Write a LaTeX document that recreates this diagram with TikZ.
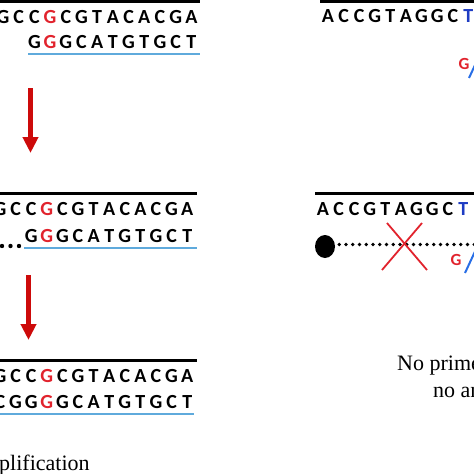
\documentclass[tikz,border=0pt]{standalone}
\usepackage{fontspec}
\setmainfont{Liberation Serif}
\newfontfamily\dnafont{Carlito}
\usetikzlibrary{arrows.meta,shapes.geometric}
\definecolor{rd}{RGB}{225,35,45}
\definecolor{dk}{RGB}{0,0,0}
\definecolor{bt}{RGB}{30,60,195}
\definecolor{lb}{RGB}{95,170,220}
\definecolor{arr}{RGB}{205,10,10}
\definecolor{sl}{RGB}{40,110,230}
\tikzset{
  nt/.style={font=\dnafont\bfseries\fontsize{20}{20}\selectfont, inner sep=0pt, anchor=base},
  smallnt/.style={font=\dnafont\bfseries\fontsize{17}{17}\selectfont, inner sep=0pt, anchor=base},
  strand/.style={line width=2.8pt, black},
  primer/.style={line width=2pt, lb},
  redarrow/.style={line width=4.5pt, arr, -{Triangle[width=15pt,length=16pt]}},
  lbl/.style={font=\fontsize{22}{27}\selectfont, inner sep=0pt, anchor=base west},
  xline/.style={line width=1.8pt, rd},
  slash/.style={line width=2pt, sl}
}
\begin{document}
\begin{tikzpicture}[x=1pt,y=-1pt]
\useasboundingbox (0,0) rectangle (474,474);
\clip (0,0) rectangle (474,474);
% ---------- left block 1 ----------
\coordinate (l1a) at (0,1.3); \coordinate (l1b) at (200,1.3);
\draw[strand] (l1a) -- (l1b);
\foreach \c/\k [count=\i from 0] in {G/dk,C/dk,C/dk,G/rd,C/dk,G/dk,T/dk,A/dk,C/dk,A/dk,C/dk,G/dk,A/dk}
  \node[nt,text=\k] (ua\i) at (3+\i*15.7,23) {\c};
\foreach \c/\k [count=\i from 2] in {G/dk,G/rd,G/dk,C/dk,A/dk,T/dk,G/dk,T/dk,G/dk,C/dk,T/dk}
  \node[nt,text=\k] (ub\i) at (3+\i*15.7,48) {\c};
\coordinate (p1a) at (28,54); \coordinate (p1b) at (200,54);
\draw[primer] (p1a) -- (p1b);
% arrow 1
\coordinate (a1s) at (30.5,88); \coordinate (a1e) at (30.5,153);
\draw[redarrow] (a1s) -- (a1e);
% ---------- left block 2 ----------
\coordinate (l2a) at (0,193.5); \coordinate (l2b) at (197,193.5);
\draw[strand] (l2a) -- (l2b);
\foreach \c/\k [count=\i from 0] in {G/dk,C/dk,C/dk,G/rd,C/dk,G/dk,T/dk,A/dk,C/dk,A/dk,C/dk,G/dk,A/dk}
  \node[nt,text=\k] (ma\i) at (0+\i*15.6,215) {\c};
\foreach \c/\k [count=\i from 2] in {G/dk,G/rd,G/dk,C/dk,A/dk,T/dk,G/dk,T/dk,G/dk,C/dk,T/dk}
  \node[nt,text=\k] (mb\i) at (0+\i*15.6,242) {\c};
\foreach \x [count=\i] in {2,10.5,19}
  \fill (\x,246) circle (2.2pt) coordinate (md\i);
\coordinate (p2a) at (24,247.5); \coordinate (p2b) at (197,247.5);
\draw[primer] (p2a) -- (p2b);
% arrow 2
\coordinate (a2s) at (28.5,275); \coordinate (a2e) at (28.5,340);
\draw[redarrow] (a2s) -- (a2e);
% ---------- left block 3 ----------
\coordinate (l3a) at (0,360.5); \coordinate (l3b) at (197,360.5);
\draw[strand] (l3a) -- (l3b);
\foreach \c/\k [count=\i from 0] in {G/dk,C/dk,C/dk,G/rd,C/dk,G/dk,T/dk,A/dk,C/dk,A/dk,C/dk,G/dk,A/dk}
  \node[nt,text=\k] (la\i) at (0+\i*15.6,382) {\c};
\foreach \c/\k [count=\i from 0] in {C/dk,G/dk,G/dk,G/rd,G/dk,C/dk,A/dk,T/dk,G/dk,T/dk,G/dk,C/dk,T/dk}
  \node[nt,text=\k] (lb\i) at (0+\i*15.6,408) {\c};
\coordinate (p3a) at (0,413.5); \coordinate (p3b) at (194,413.5);
\draw[primer] (p3a) -- (p3b);
\node[lbl] (amp) at (-1,470) {plification};
% ---------- right block 1 ----------
\coordinate (r1a) at (320,1.3); \coordinate (r1b) at (474,1.3);
\draw[strand] (r1a) -- (r1b);
\foreach \c/\k [count=\i from 0] in {A/dk,C/dk,C/dk,G/dk,T/dk,A/dk,G/dk,G/dk,C/dk,T/bt}
  \node[nt,text=\k] (ra\i) at (328+\i*15.6,22) {\c};
\node[smallnt,text=rd] (rg1) at (464,69) {G};
\coordinate (s1a) at (469,78); \coordinate (s1b) at (482,50);
\draw[slash] (s1a) -- (s1b);
% ---------- right block 2 ----------
\coordinate (r2a) at (315,193.5); \coordinate (r2b) at (474,193.5);
\draw[strand] (r2a) -- (r2b);
\foreach \c/\k [count=\i from 0] in {A/dk,C/dk,C/dk,G/dk,T/dk,A/dk,G/dk,G/dk,C/dk,T/bt}
  \node[nt,text=\k] (rb\i) at (323+\i*15.6,215) {\c};
\node[nt,text=rd] (rb10) at (481.5,215) {G};
\node[ellipse, fill=black, inner sep=0pt, minimum width=20pt, minimum height=23pt] (blob) at (325,246.5) {};
\coordinate (d2) at (478,244.5);
\draw[line width=3.8pt, line cap=round, dash pattern=on 0pt off 6.75pt, shorten <=4pt] (blob.east |- d2) -- (d2);
\coordinate (x1a) at (387,223); \coordinate (x1b) at (427,270);
\coordinate (x2a) at (422,223); \coordinate (x2b) at (382,270);
\draw[xline] (x1a) -- (x1b);
\draw[xline] (x2a) -- (x2b);
\node[smallnt,text=rd] (rg2) at (456,265) {G};
\coordinate (s2a) at (465,273); \coordinate (s2b) at (478,245);
\draw[slash] (s2a) -- (s2b);
% ---------- right text ----------
\node[lbl] (np1) at (397,370) {No prime};
\node[lbl] (np2) at (433,397) {no am};
\end{tikzpicture}
\end{document}
